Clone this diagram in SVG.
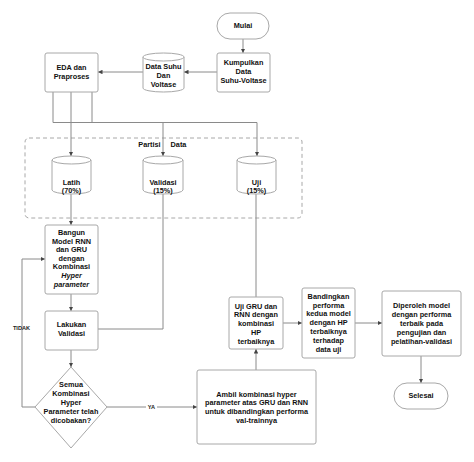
<svg xmlns="http://www.w3.org/2000/svg" width="474" height="462" viewBox="0 0 474 462">
<style>
.box{fill:#fff;stroke:#a8a8a8;stroke-width:1}
.t{font-family:"Liberation Sans",Arial,sans-serif;font-weight:bold;font-size:7.3px;fill:#111;text-anchor:middle}
.lbl{font-family:"Liberation Sans",Arial,sans-serif;font-weight:bold;font-size:5.6px;fill:#222;text-anchor:middle}
.c{fill:none;stroke:#8a8a8a;stroke-width:1}
.dash{fill:none;stroke:#a8a8a8;stroke-width:1;stroke-dasharray:4 3}
</style>
<defs>
<marker id="ah" viewBox="0 0 10 10" refX="10" refY="5" markerWidth="4.5" markerHeight="4.5" markerUnits="userSpaceOnUse" orient="auto">
<path d="M0,0 L10,5 L0,10 z" fill="#444"/>
</marker>
</defs>
<rect width="474" height="462" fill="#fff"/>
<rect class="dash" x="25" y="138" width="277" height="80" rx="4"/>
<text class="t" x="163" y="146.6"><tspan x="149.5">Partisi</tspan><tspan x="178.5">Data</tspan></text>
<g id="connectors">
<path class="c" d="M243,39 V53" marker-end="url(#ah)"/>
<path class="c" d="M217,72 H184" marker-end="url(#ah)"/>
<path class="c" d="M143,72 H98" marker-end="url(#ah)"/>
<path class="c" d="M53,92 V122.5 H257 V156" marker-end="url(#ah)"/>
<path class="c" d="M71,92 V156" marker-end="url(#ah)"/>
<path class="c" d="M92,92 V122.5"/>
<path class="c" d="M163,122.5 V156" marker-end="url(#ah)"/>
<path class="c" d="M71,194 V225" marker-end="url(#ah)"/>
<path class="c" d="M71,294 V311" marker-end="url(#ah)"/>
<path class="c" d="M163,194 V329 H98"/>
<path class="c" d="M71,350 V367" marker-end="url(#ah)"/>
<path class="c" d="M35,407 H22 V259 H45" marker-end="url(#ah)"/>
<path class="c" d="M107,407 H197" marker-end="url(#ah)"/>
<path class="c" d="M256,194 V297"/>
<path class="c" d="M256,370 V349" marker-end="url(#ah)"/>
<path class="c" d="M283,323 H302" marker-end="url(#ah)"/>
<path class="c" d="M355,323 H382" marker-end="url(#ah)"/>
<path class="c" d="M421,356 V383" marker-end="url(#ah)"/>
<text class="lbl" x="21.5" y="330">TIDAK</text>
<rect x="146" y="403" width="11" height="6" fill="#fff"/>
<text class="lbl" x="151.5" y="408.5">YA</text>
</g>
<g id="mulai">
<rect class="box" x="217" y="13" width="52" height="26" rx="13"/>
<text class="t" x="243" y="28">Mulai</text>
</g>
<g id="kumpulkan">
<rect class="box" x="217" y="53" width="53" height="39" rx="2"/>
<text class="t" x="243.5" y="65.3">Kumpulkan</text>
<text class="t" x="243.5" y="74.3">Data</text>
<text class="t" x="243.5" y="83.3">Suhu-Voltase</text>
</g>
<g id="data">
<path class="box" d="M143,57 A20.5,4 0 0 1 184,57 V88 A20.5,4 0 0 1 143,88 Z"/>
<path class="box" d="M143,57 A20.5,4 0 0 0 184,57" fill="none"/>
<text class="t" x="163.5" y="69.3">Data Suhu</text>
<text class="t" x="163.5" y="78">Dan</text>
<text class="t" x="163.5" y="87">Voltase</text>
</g>
<g id="eda">
<rect class="box" x="45" y="53" width="53" height="39" rx="2"/>
<text class="t" x="71.5" y="70">EDA dan</text>
<text class="t" x="71.5" y="78.7">Praproses</text>
</g>
<g id="latih">
<path class="box" d="M52,160 A19.5,4 0 0 1 91,160 V190 A19.5,4 0 0 1 52,190 Z"/>
<path class="box" d="M52,160 A19.5,4 0 0 0 91,160" fill="none"/>
<text class="t" x="71.5" y="184.6">Latih</text>
<text class="t" x="71.5" y="193.2">(70%)</text>
</g>
<g id="validasi">
<path class="box" d="M143,160 A20,4 0 0 1 183,160 V190 A20,4 0 0 1 143,190 Z"/>
<path class="box" d="M143,160 A20,4 0 0 0 183,160" fill="none"/>
<text class="t" x="163" y="184.6">Validasi</text>
<text class="t" x="163" y="193.2">(15%)</text>
</g>
<g id="uji">
<path class="box" d="M237,160 A19.5,4 0 0 1 276,160 V190 A19.5,4 0 0 1 237,190 Z"/>
<path class="box" d="M237,160 A19.5,4 0 0 0 276,160" fill="none"/>
<text class="t" x="256.5" y="184.6">Uji</text>
<text class="t" x="256.5" y="193.2">(15%)</text>
</g>
<g id="bangun">
<rect class="box" x="45" y="225" width="53" height="69" rx="2"/>
<text class="t" x="71.5" y="235">Bangun</text>
<text class="t" x="71.5" y="243.6">Model RNN</text>
<text class="t" x="71.5" y="252.2">dan GRU</text>
<text class="t" x="71.5" y="260.8">dengan</text>
<text class="t" x="71.5" y="269.4">Kombinasi</text>
<text class="t" x="71.5" y="278" font-style="italic">Hyper</text>
<text class="t" x="71.5" y="286.8" font-style="italic">parameter</text>
</g>
<g id="lakukan">
<rect class="box" x="45" y="311" width="53" height="39" rx="2"/>
<text class="t" x="71.5" y="327.3">Lakukan</text>
<text class="t" x="71.5" y="335.9">Validasi</text>
</g>
<g id="semua">
<path class="box" d="M71,367 L107,407 L71,448 L35,407 Z"/>
<text class="t" x="71" y="387.3">Semua</text>
<text class="t" x="71" y="396">Kombinasi</text>
<text class="t" x="71" y="404.9">Hyper</text>
<text class="t" x="71" y="413.6">Parameter telah</text>
<text class="t" x="71" y="422.6">dicobakan?</text>
</g>
<g id="ambil">
<rect class="box" x="197" y="370" width="119" height="74" rx="2"/>
<text class="t" x="256.5" y="396.6">Ambil kombinasi hyper</text>
<text class="t" x="256.5" y="405.3">parameter atas GRU dan RNN</text>
<text class="t" x="256.5" y="414.3">untuk dibandingkan performa</text>
<text class="t" x="256.5" y="423">val-trainnya</text>
</g>
<g id="ujigru">
<rect class="box" x="229" y="297" width="54" height="52" rx="2"/>
<text class="t" x="256" y="308.6">Uji GRU dan</text>
<text class="t" x="256" y="317.3">RNN dengan</text>
<text class="t" x="256" y="326.3">kombinasi</text>
<text class="t" x="256" y="335">HP</text>
<text class="t" x="256" y="344">terbaiknya</text>
</g>
<g id="bandingkan">
<rect class="box" x="302" y="288" width="53" height="70" rx="2"/>
<text class="t" x="328.5" y="298.6">Bandingkan</text>
<text class="t" x="328.5" y="307.6">performa</text>
<text class="t" x="328.5" y="316.3">kedua model</text>
<text class="t" x="328.5" y="325.3">dengan HP</text>
<text class="t" x="328.5" y="333.9">terbaiknya</text>
<text class="t" x="328.5" y="342.9">terhadap</text>
<text class="t" x="328.5" y="351.6">data uji</text>
</g>
<g id="diperoleh">
<rect class="box" x="382" y="291" width="79" height="65" rx="2"/>
<text class="t" x="421.5" y="308">Diperoleh model</text>
<text class="t" x="421.5" y="317">dengan performa</text>
<text class="t" x="421.5" y="326">terbaik pada</text>
<text class="t" x="421.5" y="335">pengujian dan</text>
<text class="t" x="421.5" y="343.6">pelatihan-validasi</text>
</g>
<g id="selesai">
<rect class="box" x="394" y="383" width="54" height="26" rx="13"/>
<text class="t" x="421" y="398">Selesai</text>
</g>
</svg>
